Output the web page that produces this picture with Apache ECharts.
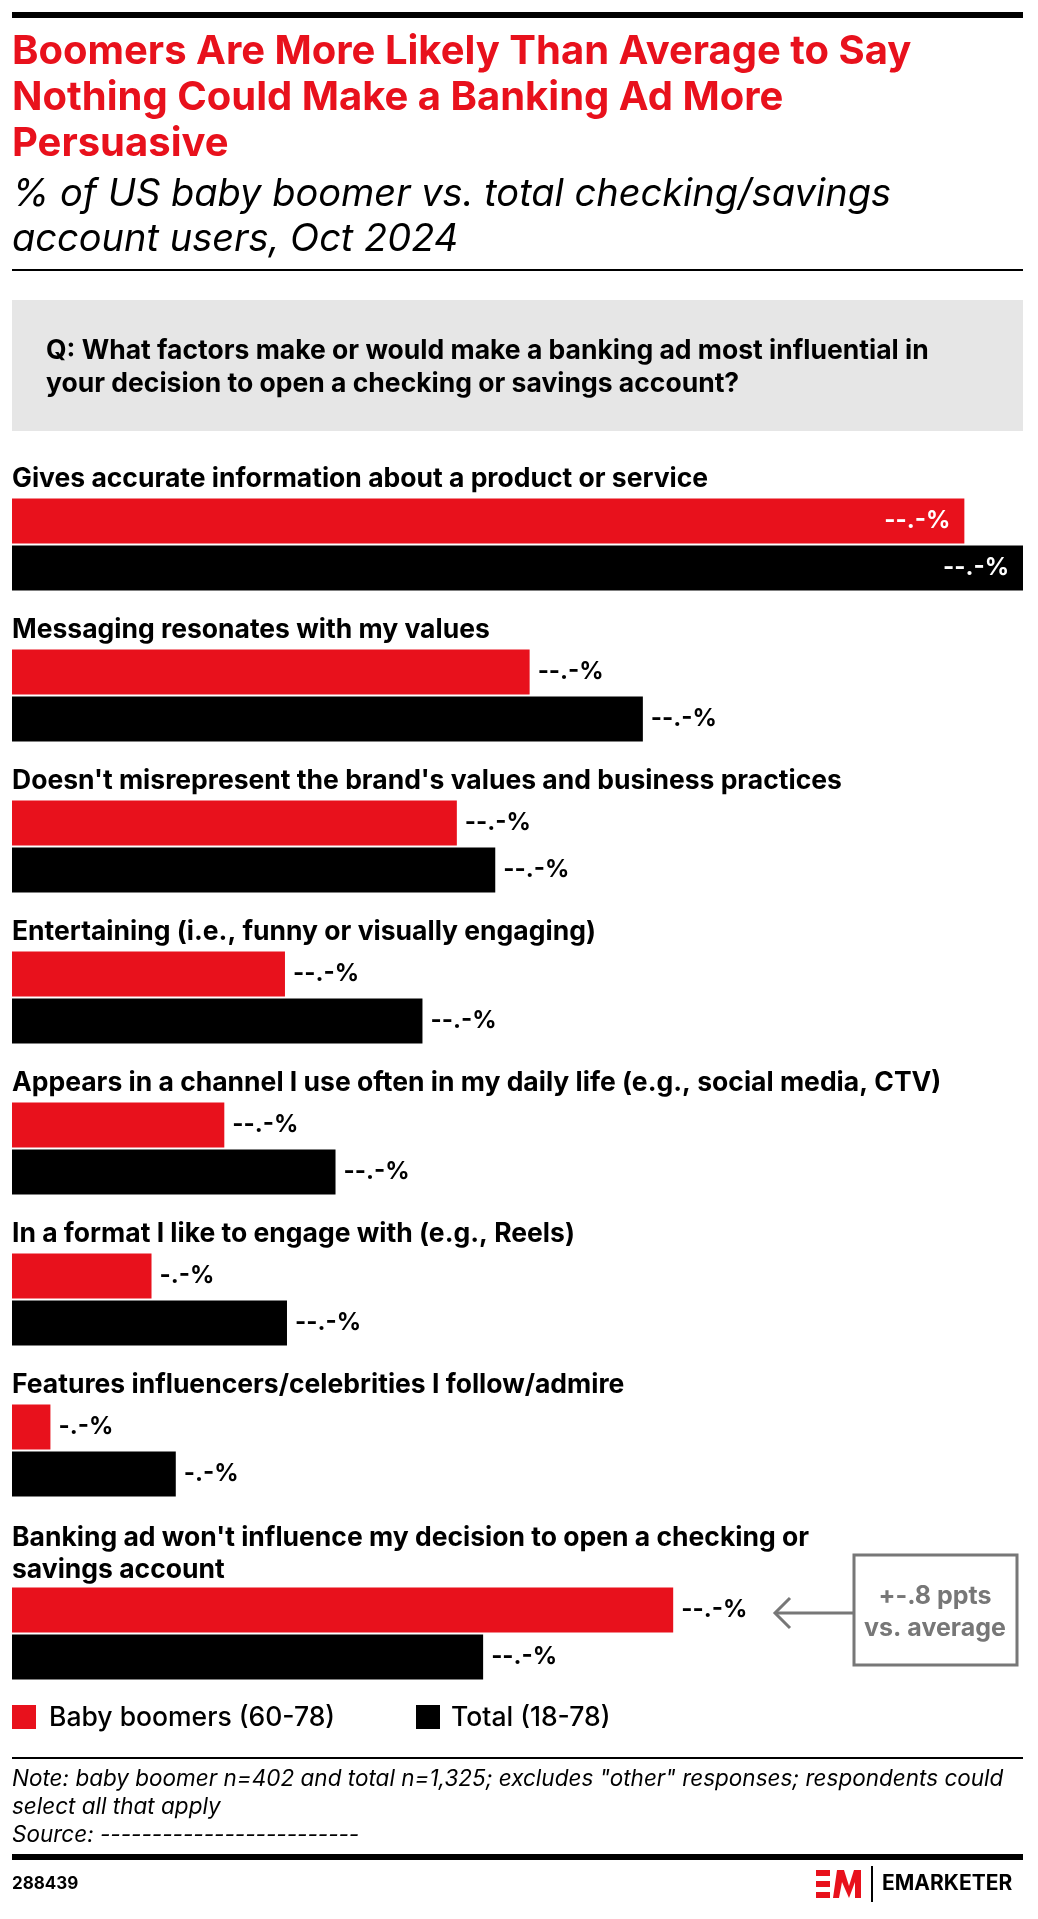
<!DOCTYPE html>
<html>
<head>
<meta charset="utf-8">
<script src="https://cdn.jsdelivr.net/npm/echarts@6/dist/echarts.min.js"></script>
<style>
  html, body { margin: 0; padding: 0; background: #fff; }
  #chart { width: 1038px; height: 1919px; }
</style>
</head>
<body>
<div id="chart"></div>
<script>
// categories, top to bottom
const categories = [
  "Gives accurate information about a product or service",
  "Messaging resonates with my values",
  "Doesn't misrepresent the brand's values and business practices",
  "Entertaining (i.e., funny or visually engaging)",
  "Appears in a channel I use often in my daily life (e.g., social media, CTV)",
  "In a format I like to engage with (e.g., Reels)",
  "Features influencers/celebrities I follow/admire"
];
const lastCategory = ["Banking ad won't influence my decision to open a checking or", "savings account"];
// (labels in source are masked)
const boomers = [47.1, 25.6, 22.0, 13.5, 10.5, 6.9, 1.9];
const total = [50.0, 31.2, 23.9, 20.3, 16.0, 13.6, 8.1];
const boomersLast = [32.7];
const totalLast = [23.3];

const RED = "#e8111c";
const FONT = "Inter, Roboto, 'Liberation Sans', sans-serif";

const chart = echarts.init(document.getElementById("chart"));

// masked label text as in the original
function mask(v) {
  return v < 10 ? "-.-%" : "--.-%";
}

const BAND = 151;
const G1TOP = 469;
const G2TOP = 1558;

const graphic = [];
function txt(x, y, text, size, opts) {
  graphic.push({
    type: "text", x: x, y: y,
    style: Object.assign({ text: text, fontSize: size, fontFamily: FONT, fill: "#000", fontWeight: "bold", textVerticalAlign: "middle" }, opts || {})
  });
}
// rules
graphic.push({ type: "rect", shape: { x: 12, y: 12, width: 1011, height: 6 }, style: { fill: "#000" } });
graphic.push({ type: "rect", shape: { x: 12, y: 269, width: 1011, height: 2 }, style: { fill: "#000" } });
graphic.push({ type: "rect", shape: { x: 12, y: 300, width: 1011, height: 131 }, style: { fill: "#e6e6e6" } });
graphic.push({ type: "rect", shape: { x: 12, y: 1757, width: 1011, height: 2 }, style: { fill: "#000" } });
graphic.push({ type: "rect", shape: { x: 12, y: 1854, width: 1011, height: 6 }, style: { fill: "#000" } });

// title & subtitle
txt(12, 52, "Boomers Are More Likely Than Average to Say", 40, { fill: RED });
txt(12, 98, "Nothing Could Make a Banking Ad More", 40, { fill: RED });
txt(12, 144, "Persuasive", 40, { fill: RED });
txt(12, 195, "% of US baby boomer vs. total checking/savings", 38, { fontWeight: "normal", fontStyle: "italic" });
txt(12, 240, "account users, Oct 2024", 38, { fontWeight: "normal", fontStyle: "italic" });

// question box
txt(46, 351, "Q: What factors make or would make a banking ad most influential in", 26.5);
txt(46, 384, "your decision to open a checking or savings account?", 26.5);

// category labels
categories.forEach(function (c, i) {
  txt(12, G1TOP + i * BAND + 10, c, 26.5);
});
txt(12, 1538, lastCategory[0], 26.5);
txt(12, 1570, lastCategory[1], 26.5);

// annotation box + arrow
graphic.push({ type: "rect", shape: { x: 854, y: 1555, width: 163, height: 110 }, style: { fill: "none", stroke: "#777", lineWidth: 3 } });
txt(935, 1596, "+-.8 ppts", 25, { fill: "#777", textAlign: "center" });
txt(935, 1628, "vs. average", 25, { fill: "#777", textAlign: "center" });
graphic.push({ type: "line", shape: { x1: 853, y1: 1613, x2: 775, y2: 1613 }, style: { stroke: "#777", lineWidth: 3 } });
graphic.push({ type: "polyline", shape: { points: [[790, 1598], [775, 1613], [790, 1628]] }, style: { stroke: "#777", lineWidth: 3, fill: "none" } });

// legend
graphic.push({ type: "rect", shape: { x: 12, y: 1705, width: 24, height: 24 }, style: { fill: RED } });
txt(49, 1718, "Baby boomers (60-78)", 26.5, { fontWeight: "500" });
graphic.push({ type: "rect", shape: { x: 416, y: 1705, width: 24, height: 24 }, style: { fill: "#000" } });
txt(451, 1718, "Total (18-78)", 26.5, { fontWeight: "500" });

// notes
txt(12, 1779, "Note: baby boomer n=402 and total n=1,325; excludes \"other\" responses; respondents could", 22.5, { fontWeight: "normal", fontStyle: "italic" });
txt(12, 1807, "select all that apply", 22.5, { fontWeight: "normal", fontStyle: "italic" });
txt(12, 1835, "Source: -------------------------", 22.5, { fontWeight: "normal", fontStyle: "italic" });

// footer
txt(12, 1884, "288439", 17);
graphic.push({ type: "rect", shape: { x: 816, y: 1870, width: 14, height: 6 }, style: { fill: RED } });
graphic.push({ type: "rect", shape: { x: 816, y: 1881, width: 14, height: 6 }, style: { fill: RED } });
graphic.push({ type: "rect", shape: { x: 816, y: 1892, width: 14, height: 6 }, style: { fill: RED } });
graphic.push({ type: "polygon", shape: { points: [[833, 1898], [837, 1870], [844, 1870], [849, 1886], [854, 1870], [861, 1870], [861, 1898], [855, 1898], [855, 1882], [849, 1898], [842, 1882], [839, 1898]] }, style: { fill: RED } });
graphic.push({ type: "rect", shape: { x: 871, y: 1866, width: 2, height: 36 }, style: { fill: "#000" } });
txt(882, 1884, "EMARKETER", 21, { fontWeight: "bold" });

function barSeries(data, color, xi, firstInside) {
  return {
    type: "bar", xAxisIndex: xi, yAxisIndex: xi,
    data: data.map(function (v, i) {
      const inside = firstInside && i === 0;
      return {
        value: v,
        label: {
          position: inside ? "insideRight" : "right",
          color: inside ? "#fff" : "#000",
          distance: inside ? 14 : 8
        }
      };
    }),
    barWidth: 45, barGap: "4.4%",
    itemStyle: { color: color },
    label: { show: true, fontSize: 24, fontWeight: "bold", fontFamily: FONT, formatter: function (p) { return mask(p.value); } },
    silent: true
  };
}

const xAxisCfg = { type: "value", min: 0, max: 50, show: false };
const yAxisCfg = { type: "category", inverse: true, show: false };

chart.setOption({
  animation: false,
  grid: [
    { left: 12, width: 1011, top: G1TOP, height: BAND * categories.length },
    { left: 12, width: 1011, top: G2TOP, height: BAND }
  ],
  xAxis: [Object.assign({ gridIndex: 0 }, xAxisCfg), Object.assign({ gridIndex: 1 }, xAxisCfg)],
  yAxis: [
    Object.assign({ gridIndex: 0, data: categories }, yAxisCfg),
    Object.assign({ gridIndex: 1, data: [lastCategory.join(" ")] }, yAxisCfg)
  ],
  series: [
    barSeries(boomers, RED, 0, true),
    barSeries(total, "#000", 0, true),
    barSeries(boomersLast, RED, 1, false),
    barSeries(totalLast, "#000", 1, false)
  ],
  graphic: graphic
});
</script>
</body>
</html>
